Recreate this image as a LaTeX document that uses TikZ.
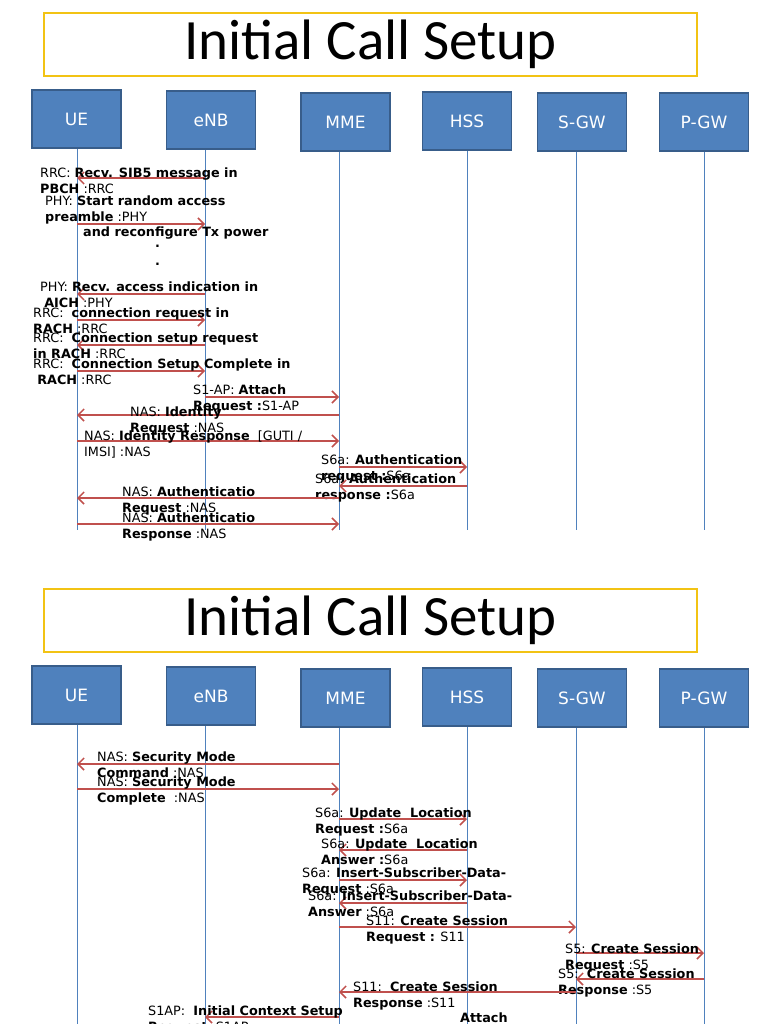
\documentclass[tikz,border=0pt]{standalone}
\usepackage{fontspec}
\setmainfont{DejaVu Sans}
\newfontfamily\titlefont{Carlito}
\usetikzlibrary{arrows.meta}
\definecolor{boxfill}{HTML}{4F81BD}
\definecolor{boxline}{HTML}{385D8A}
\definecolor{msgred}{HTML}{C0504D}
\definecolor{gold}{HTML}{F2C314}
\begin{document}
\begin{tikzpicture}[x=1pt,y=-1pt,
  ent/.style={draw=boxline,line width=1.2pt,fill=boxfill,text=white,minimum width=89pt,minimum height=58pt,font=\fontsize{17}{19}\selectfont},
  ttl/.style={draw=gold,line width=1.5pt,minimum width=653pt,minimum height=63pt,font=\titlefont\fontsize{57}{60}\selectfont},
  life/.style={boxfill,line width=0.8pt},
  msg/.style={msgred,line width=1.8pt,-{Straight Barb[length=6pt,width=12pt,line width=1.5pt]}},
  lab/.style={anchor=north west,inner sep=0pt,yshift=-3pt,align=left,font=\fontsize{12.8}{16}\selectfont}]
\useasboundingbox (0,0) rectangle (768,1024);
% ---------- first panel ----------
\node[ttl] (T1) at (370.5,44.5) {Initial Call Setup};
\node[ent] (UE) at (76.5,119) {UE};
\node[ent] (ENB) at (211,120) {eNB};
\node[ent] (MME) at (345.5,122) {MME};
\node[ent] (HSS) at (467,121) {HSS};
\node[ent] (SGW) at (582,122) {S-GW};
\node[ent] (PGW) at (704,122) {P-GW};
\foreach \n/\x in {UE/77,ENB/205,MME/339,HSS/467,SGW/576,PGW/704}{
  \coordinate (\n L) at (\x,0 |- \n.south);
  \coordinate (\n e) at (\x,530);
  \draw[life] (\n L) -- (\n e);
}
\draw[msg] (ENBL |- 0,178) -- (UEL |- 0,178);
\node[lab] (l1) at (40,165) {RRC:\ \textbf{Recv. SIB5 message in}\\\textbf{PBCH} :RRC};
\draw[msg] (UEL |- 0,224) -- (ENBL |- 0,224);
\node[lab] (l2) at (45,193) {PHY: \textbf{Start random access}\\\textbf{preamble} :PHY};
\node[lab] (l2b) at (83,224) {\textbf{and reconfigure Tx power}};
\node[lab] (d1) at (155,242) {\textbf{.}};
\node[lab] (d2) at (155,260) {\textbf{.}};
\draw[msg] (ENBL |- 0,294) -- (UEL |- 0,294);
\node[lab] (l3) at (40,279) {PHY: \textbf{Recv. access indication in}\\\ \textbf{AICH} :PHY};
\draw[msg] (UEL |- 0,320) -- (ENBL |- 0,320);
\node[lab] (l4) at (33,305) {RRC:\ \ \textbf{connection request in}\\\textbf{RACH} :RRC};
\draw[msg] (ENBL |- 0,345) -- (UEL |- 0,345);
\node[lab] (l5) at (33,330) {RRC:\ \ \textbf{Connection setup request}\\\textbf{in RACH} :RRC};
\draw[msg] (UEL |- 0,371) -- (ENBL |- 0,371);
\node[lab] (l6) at (33,356) {RRC:\ \ \textbf{Connection Setup Complete in}\\\ \textbf{RACH} :RRC};
\draw[msg] (ENBL |- 0,397) -- (MMEL |- 0,397);
\node[lab] (l7) at (193,382) {S1-AP: \textbf{Attach}\\\textbf{Request :}S1-AP};
\draw[msg] (MMEL |- 0,415) -- (UEL |- 0,415);
\node[lab] (l8) at (130,404) {NAS: \textbf{Identity}\\\textbf{Request} :NAS};
\draw[msg] (UEL |- 0,441) -- (MMEL |- 0,441);
\node[lab] (l9) at (84,428) {NAS: \textbf{Identity Response}\ \ [GUTI /\\IMSI] :NAS};
\draw[msg] (MMEL |- 0,467) -- (HSSL |- 0,467);
\node[lab] (l10) at (321,452) {S6a: \textbf{Authentication}\\\textbf{request :}S6a};
\draw[msg] (HSSL |- 0,486) -- (MMEL |- 0,486);
\node[lab] (l11) at (315,471) {S6a: \textbf{Authentication}\\\textbf{response :}S6a};
\draw[msg] (MMEL |- 0,498) -- (UEL |- 0,498);
\node[lab] (l12) at (122,484) {NAS: \textbf{Authenticatio}\\\textbf{Request} :NAS};
\draw[msg] (UEL |- 0,524) -- (MMEL |- 0,524);
\node[lab] (l13) at (122,510) {NAS: \textbf{Authenticatio}\\\textbf{Response} :NAS};
% ---------- second panel ----------
\node[ttl] (T2) at (370.5,620.5) {Initial Call Setup};
\node[ent] (UE2) at (76.5,695) {UE};
\node[ent] (ENB2) at (211,696) {eNB};
\node[ent] (MME2) at (345.5,698) {MME};
\node[ent] (HSS2) at (467,697) {HSS};
\node[ent] (SGW2) at (582,698) {S-GW};
\node[ent] (PGW2) at (704,698) {P-GW};
\foreach \n/\x in {UE2/77,ENB2/205,MME2/339,HSS2/467,SGW2/576,PGW2/704}{
  \coordinate (\n L) at (\x,0 |- \n.south);
  \coordinate (\n e) at (\x,1024);
  \draw[life] (\n L) -- (\n e);
}
\draw[msg] (MME2L |- 0,764) -- (UE2L |- 0,764);
\node[lab] (m1) at (97,749) {NAS: \textbf{Security Mode}\\\textbf{Command} :NAS};
\draw[msg] (UE2L |- 0,789) -- (MME2L |- 0,789);
\node[lab] (m2) at (97,774) {NAS: \textbf{Security Mode}\\\textbf{Complete}\ \ :NAS};
\draw[msg] (MME2L |- 0,819) -- (HSS2L |- 0,819);
\node[lab] (m3) at (315,805) {S6a: \textbf{Update\ \ Location}\\\textbf{Request :}S6a};
\draw[msg] (HSS2L |- 0,850) -- (MME2L |- 0,850);
\node[lab] (m4) at (321,836) {S6a: \textbf{Update\ \ Location}\\\textbf{Answer :}S6a};
\draw[msg] (MME2L |- 0,880) -- (HSS2L |- 0,880);
\node[lab] (m5) at (302,865) {S6a: \textbf{Insert-Subscriber-Data-}\\\textbf{Request} :S6a};
\draw[msg] (HSS2L |- 0,903) -- (MME2L |- 0,903);
\node[lab] (m6) at (308,888) {S6a: \textbf{Insert-Subscriber-Data-}\\\textbf{Answer} :S6a};
\draw[msg] (MME2L |- 0,927) -- (SGW2L |- 0,927);
\node[lab] (m7) at (366,913) {S11: \textbf{Create Session}\\\textbf{Request :} S11};
\draw[msg] (SGW2L |- 0,953) -- (PGW2L |- 0,953);
\node[lab] (m8) at (565,941) {S5: \textbf{Create Session}\\\textbf{Request} :S5};
\draw[msg] (PGW2L |- 0,979) -- (SGW2L |- 0,979);
\node[lab] (m9) at (558,966) {S5:\ \ \textbf{Create Session}\\\textbf{Response} :S5};
\draw[msg] (SGW2L |- 0,992) -- (MME2L |- 0,992);
\node[lab] (m10) at (353,979) {S11:\ \ \textbf{Create Session}\\\textbf{Response} :S11};
\draw[msg] (MME2L |- 0,1017) -- (ENB2L |- 0,1017);
\node[lab] (m11) at (148,1003) {S1AP:\ \ \textbf{Initial Context Setup}\\\textbf{Request} :S1AP};
\node[lab] (m12) at (460,1010) {\textbf{Attach}};
\end{tikzpicture}
\end{document}
